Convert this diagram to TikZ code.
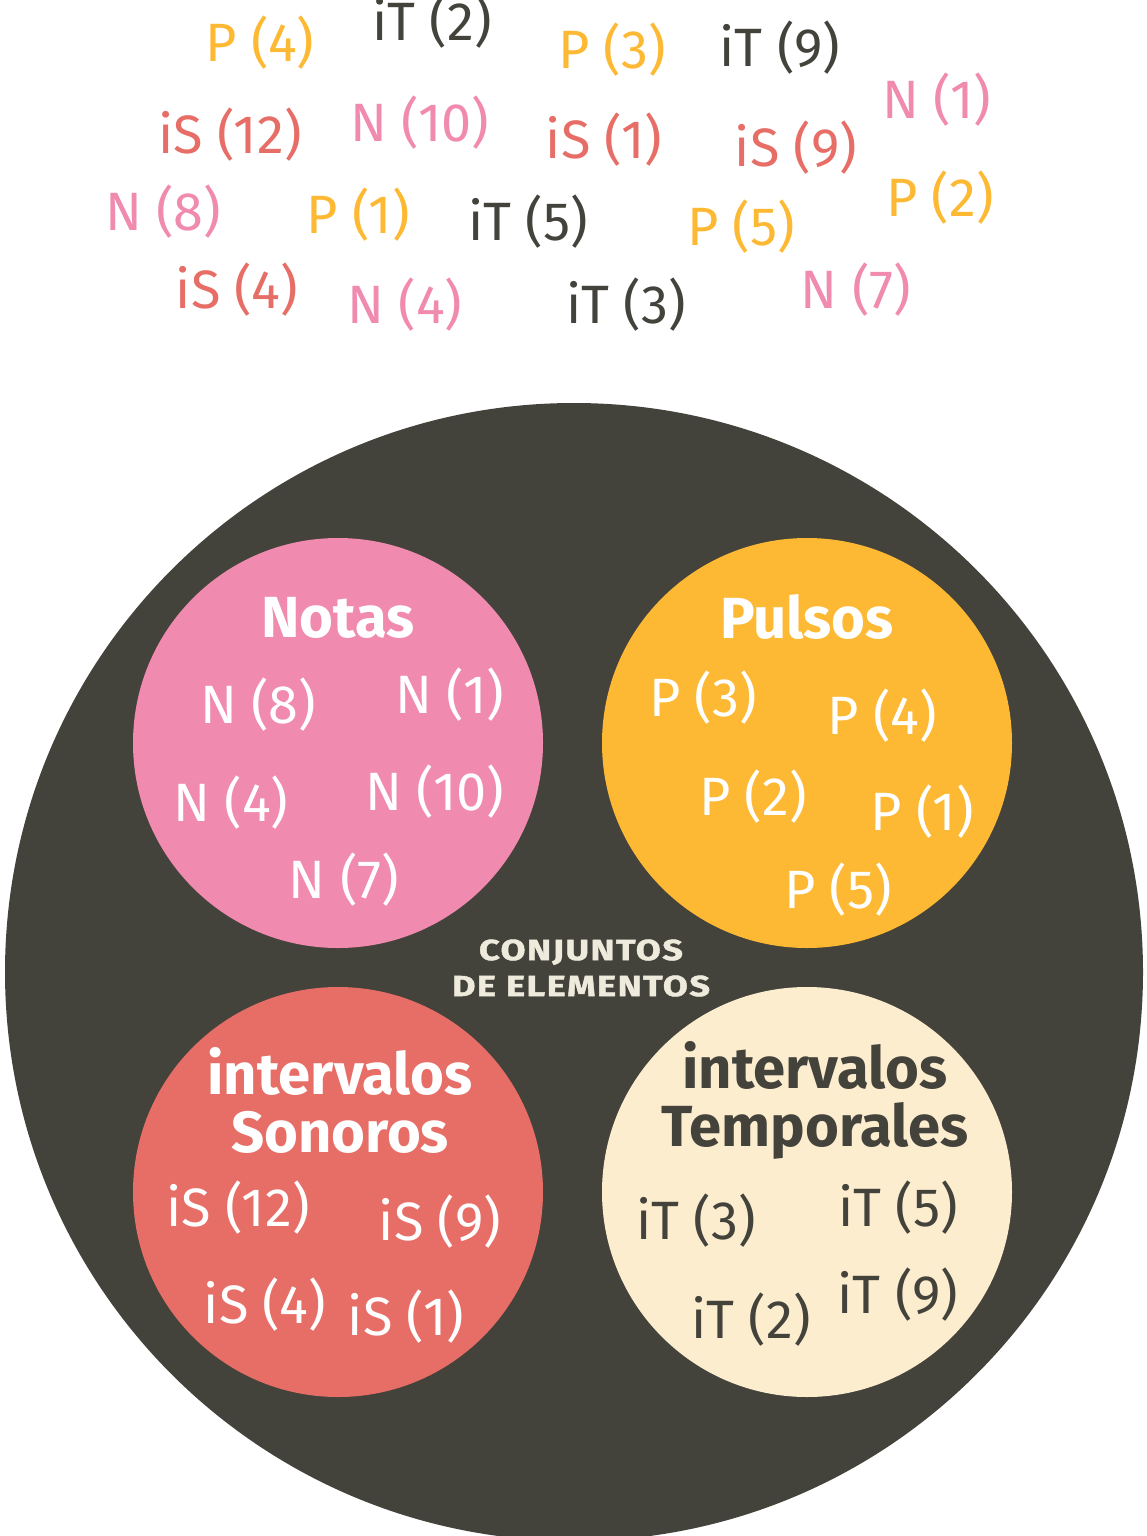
\documentclass[tikz,border=0pt]{standalone}
\usepackage{fontspec}
\setmainfont{Fira Sans}
\newfontfamily\conjfont[FakeStretch=1.25,LetterSpace=5,FakeBold=1.5]{Fira Sans}
\definecolor{cdark}{HTML}{43423B}
\definecolor{cpink}{HTML}{F08AAE}
\definecolor{corange}{HTML}{FDB933}
\definecolor{cred}{HTML}{E76D67}
\definecolor{ccream}{HTML}{FDEDCF}
\definecolor{clight}{HTML}{EEEADC}
\begin{document}
\begin{tikzpicture}[x=0.5pt,y=-0.5pt,
  lab/.style={inner sep=0pt,font=\fontsize{27}{30}\selectfont},
  ttl/.style={inner sep=0pt,align=center,font=\fontsize{29}{29}\selectfont\bfseries},
  setc/.style={circle,inner sep=0pt,minimum size=205pt},
  pk/.style={lab,text=cpink},
  og/.style={lab,text=corange},
  rd/.style={lab,text=cred},
  dk/.style={lab,text=cdark},
  wt/.style={lab,text=white}]
\useasboundingbox (0,0) rectangle (1146,1536);
\clip (0,0) rectangle (1146,1536);
% scattered elements
\node[og] (u1) at (260,43) {P (4)};
\node[dk] (u2) at (432,22) {iT (2)};
\node[og] (u3) at (612,50) {P (3)};
\node[dk] (u4) at (780,48) {iT (9)};
\node[pk] (u5) at (937,100) {N (1)};
\node[rd] (u6) at (230,135) {iS (12)};
\node[pk] (u7) at (420,123) {N (10)};
\node[rd] (u8) at (604,140) {iS (1)};
\node[rd] (u9) at (796,148) {iS (9)};
\node[og] (u10) at (940,198) {P (2)};
\node[pk] (u11) at (163,212) {N (8)};
\node[og] (u12) at (358,215) {P (1)};
\node[dk] (u13) at (528,222) {iT (5)};
\node[og] (u14) at (741,227) {P (5)};
\node[rd] (u15) at (237,290) {iS (4)};
\node[pk] (u16) at (405,305) {N (4)};
\node[dk] (u17) at (626,305) {iT (3)};
\node[pk] (u18) at (856,290) {N (7)};
% big set
\node[circle,inner sep=0pt,minimum size=1138pt*0.5,fill=cdark] (big) at (574,972) {};
\node[setc,fill=cpink] (notas) at (338,743) {};
\node[setc,fill=corange] (pulsos) at (807,743) {};
\node[setc,fill=cred] (sonoros) at (338,1192) {};
\node[setc,fill=ccream] (temp) at (807,1192) {};
\node[inner sep=0pt,align=center,text=clight,font=\conjfont\fontsize{14.5}{18}\selectfont\bfseries] (conj) at (581,968) {CONJUNTOS\\DE ELEMENTOS};
% Notas
\node[ttl,text=white] (tn) at (338,618) {Notas};
\node[wt] (n8) at (258,705) {N (8)};
\node[wt] (n1) at (450,695) {N (1)};
\node[wt] (n4) at (231,803) {N (4)};
\node[wt] (n10) at (435,792) {N (10)};
\node[wt] (n7) at (344,880) {N (7)};
% Pulsos
\node[ttl,text=white] (tp) at (807,617) {Pulsos};
\node[wt] (p3) at (703,698) {P (3)};
\node[wt] (p4) at (882,716) {P (4)};
\node[wt] (p2) at (753,797) {P (2)};
\node[wt] (p1) at (922,812) {P (1)};
\node[wt] (p5) at (838,890) {P (5)};
% Sonoros
\node[ttl,text=white] (ts) at (340,1100) {intervalos\\Sonoros};
\node[wt] (s12) at (238,1208) {iS (12)};
\node[wt] (s9) at (440,1222) {iS (9)};
\node[wt] (s4) at (265,1305) {iS (4)};
\node[wt] (s1) at (406,1317) {iS (1)};
% Temporales
\node[ttl,text=cdark] (tt) at (815,1100) {intervalos\\Temporales};
\node[dk] (t3) at (696,1221) {iT (3)};
\node[dk] (t5) at (898,1208) {iT (5)};
\node[dk] (t2) at (751,1320) {iT (2)};
\node[dk] (t9) at (898,1295) {iT (9)};
\end{tikzpicture}
\end{document}
